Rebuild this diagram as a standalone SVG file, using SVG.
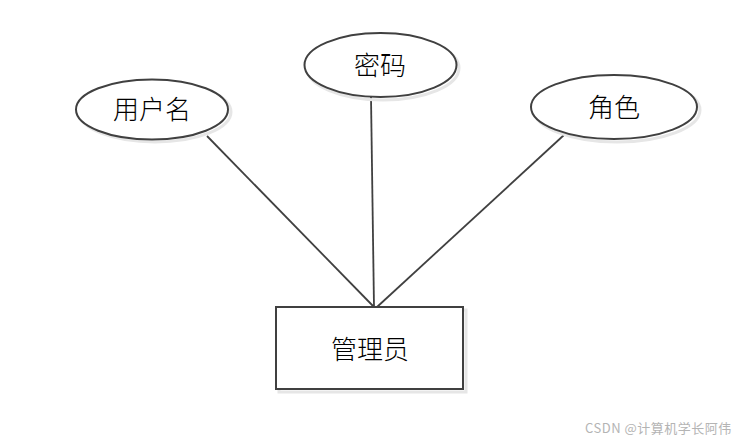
<svg xmlns="http://www.w3.org/2000/svg" width="750" height="442" viewBox="0 0 750 442">
<style>
.shape{fill:#ffffff;stroke:#404040;stroke-width:2}
.shadow{fill:none;stroke:#e6e6e6;stroke-width:3}
.conn{stroke:#404040;stroke-width:1.8;fill:none}
.lbl{font-family:"Noto Sans CJK SC","Noto Sans",sans-serif;font-size:26px;font-weight:300;fill:#000;text-anchor:middle;dominant-baseline:central}
.wm{font-family:"Noto Sans CJK SC","Liberation Sans",sans-serif;font-size:13px;fill:#b4b4b4;letter-spacing:0.5px}
</style>
<rect width="750" height="442" fill="#ffffff"/>
<g id="connectors">
<line class="conn" x1="207" y1="136" x2="374" y2="307"/>
<line class="conn" x1="371" y1="97" x2="374" y2="307"/>
<line class="conn" x1="564" y1="135" x2="377" y2="307"/>
</g>
<g id="node-username">
<ellipse class="shadow" cx="155" cy="112" rx="76" ry="30"/>
<ellipse class="shape" cx="152" cy="109.5" rx="76" ry="30"/>
<text class="lbl" x="152" y="107">用户名</text>
</g>
<g id="node-password">
<ellipse class="shadow" cx="383" cy="68" rx="76" ry="32"/>
<ellipse class="shape" cx="380.5" cy="65" rx="76" ry="32"/>
<text class="lbl" x="380" y="63">密码</text>
</g>
<g id="node-role">
<ellipse class="shadow" cx="617" cy="110" rx="83" ry="32"/>
<ellipse class="shape" cx="614" cy="107" rx="83" ry="32"/>
<text class="lbl" x="614" y="105">角色</text>
</g>
<g id="node-admin">
<rect class="shadow" x="279" y="310" width="187" height="82"/>
<rect class="shape" x="276" y="307" width="187" height="82"/>
<text class="lbl" x="370" y="347">管理员</text>
</g>
<text class="wm" x="585" y="433">CSDN @计算机学长阿伟</text>
</svg>
